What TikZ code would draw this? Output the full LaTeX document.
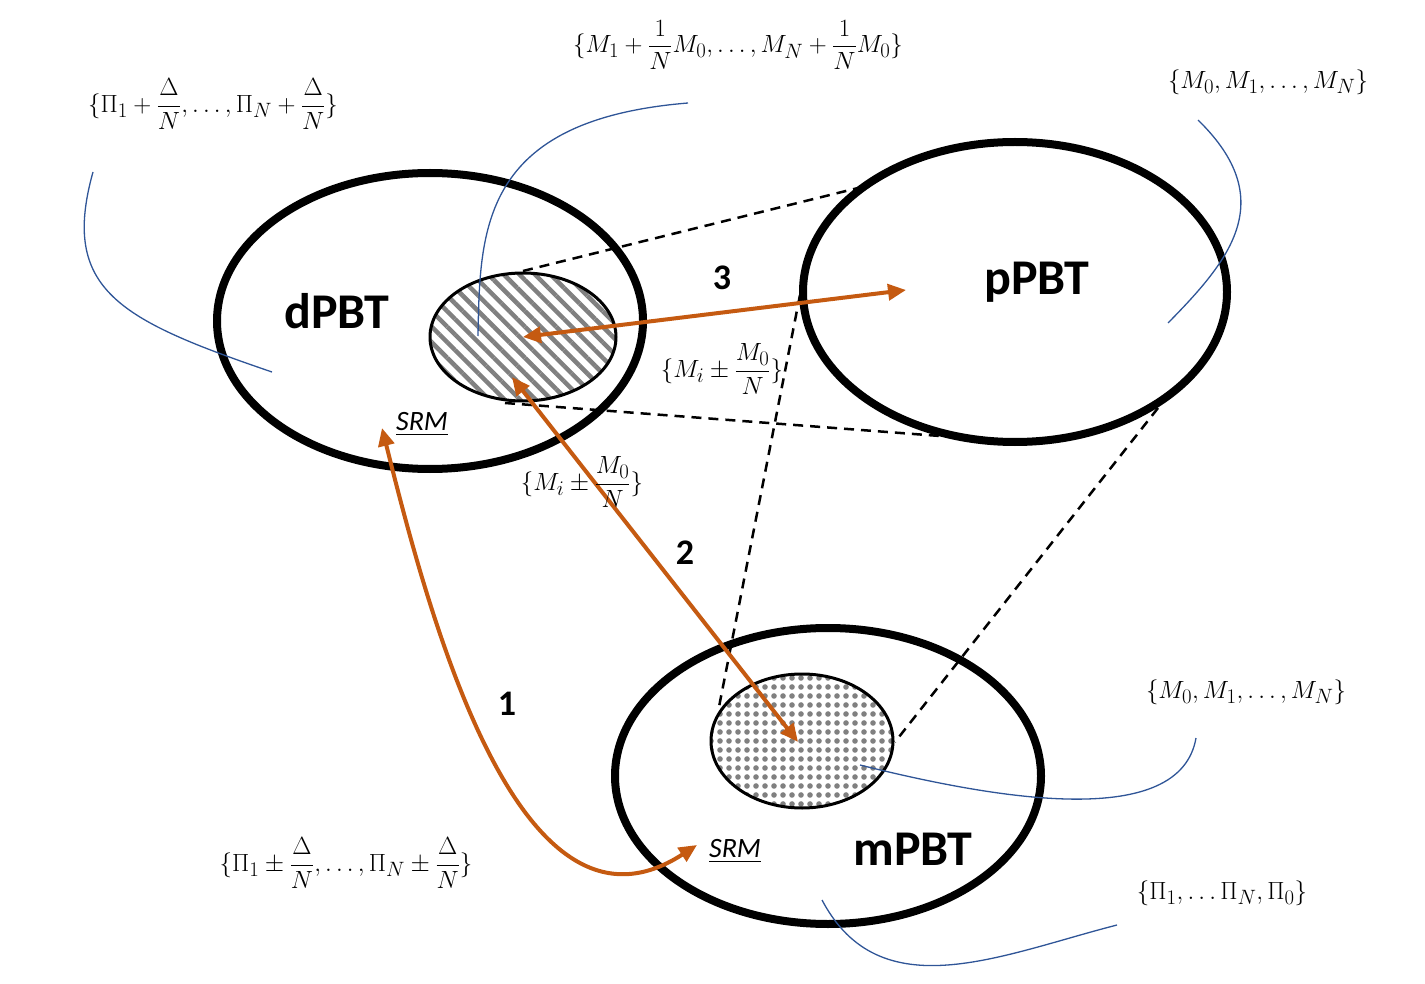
\documentclass[tikz,border=0pt]{standalone}
\usepackage{amsmath}
\usepackage{fontspec}
\newfontfamily\calfont{Carlito}
\usetikzlibrary{patterns.meta,arrows.meta}
\begin{document}
\begin{tikzpicture}[x=1pt,y=-1pt,
 big/.style={draw,line width=8pt},
 small/.style={draw,line width=3pt},
 dsh/.style={line width=2.5pt,dash pattern=on 10pt off 7pt},
 orr/.style={draw={rgb,255:red,197;green,90;blue,17},line width=4pt,{Triangle[length=18pt,width=16pt]}-{Triangle[length=18pt,width=16pt]}},
 bl/.style={draw={rgb,255:red,47;green,85;blue,151},line width=1.3pt},
 lab/.style={font=\fontsize{50}{56}\selectfont\calfont\bfseries},
 num/.style={font=\fontsize{36}{40}\selectfont\calfont\bfseries},
 srm/.style={font=\fontsize{28}{32}\selectfont\calfont\itshape},
 mth/.style={font=\fontsize{32}{38}\selectfont}]
\useasboundingbox (0,0) rectangle (1425,984);
% small ellipses
\draw[small,pattern={Lines[angle=-45,distance=11pt,line width=4.5pt]},pattern color=gray] (523,337) ellipse [x radius=93,y radius=64];
\draw[small,pattern={Dots[distance=9pt,radius=2.8pt]},pattern color=gray] (802,741) ellipse [x radius=91,y radius=67];
% big ellipses
\draw[big] (430,321) ellipse [x radius=213,y radius=148];
\draw[big] (1015,292) ellipse [x radius=212,y radius=150];
\draw[big] (828,776) ellipse [x radius=213,y radius=148];
% dashed
\draw[dsh] (523,271) -- (858,188);
\draw[dsh] (505,403) -- (940,436);
\draw[dsh] (800,295) -- (718,712);
\draw[dsh] (1158,408) -- (895,742);
% blue curves
\draw[bl] (93,172) .. controls (60,290) and (120,320) .. (272,372);
\draw[bl] (688,103) .. controls (480,120) and (480,230) .. (478,336);
\draw[bl] (1198,120) .. controls (1280,200) and (1230,260) .. (1168,323);
\draw[bl] (1196,738) .. controls (1180,830) and (1000,800) .. (860,765);
\draw[bl] (1117,925) .. controls (1000,955) and (880,1010) .. (822,900);
% orange arrows
\coordinate (a1) at (382,428); \coordinate (b1) at (697,845);
\draw[orr] (a1) .. controls (430,620) and (520,960) .. (b1);
\coordinate (a2) at (512,377); \coordinate (b2) at (798,742);
\draw[orr] (a2) -- (b2);
\coordinate (a3) at (523,337); \coordinate (b3) at (906,290);
\draw[orr] (a3) -- (b3);
% labels
\node[lab] (ld) at (337,311) {dPBT};
\node[lab] (lp) at (1037,282) {pPBT};
\node[lab] (lm) at (913,849) {mPBT};
\node[num] (n1) at (507,704) {1};
\node[num] (n2) at (685,553) {2};
\node[num] (n3) at (722,278) {3};
\node[srm] (s1) at (422,424) {\underline{SRM}};
\node[srm] (s2) at (735,851) {\underline{SRM}};
\node[mth] (t1) at (213,104) {$\{\Pi_1+\dfrac{\Delta}{N},\dots,\Pi_N+\dfrac{\Delta}{N}\}$};
\node[mth] (t2) at (738,45) {$\{M_1+\dfrac{1}{N}M_0,\dots,M_N+\dfrac{1}{N}M_0\}$};
\node[mth] (t3) at (1268,82) {$\{M_0,M_1,\dots,M_N\}$};
\node[mth] (t4) at (722,369) {$\{M_i\pm\dfrac{M_0}{N}\}$};
\node[mth] (t5) at (582,482) {$\{M_i\pm\dfrac{M_0}{N}\}$};
\node[mth] (t6) at (1246,692) {$\{M_0,M_1,\dots,M_N\}$};
\node[mth] (t7) at (346,863) {$\{\Pi_1\pm\dfrac{\Delta}{N},\dots,\Pi_N\pm\dfrac{\Delta}{N}\}$};
\node[mth] (t8) at (1222,893) {$\{\Pi_1,\dots\Pi_N,\Pi_0\}$};
\end{tikzpicture}
\end{document}
